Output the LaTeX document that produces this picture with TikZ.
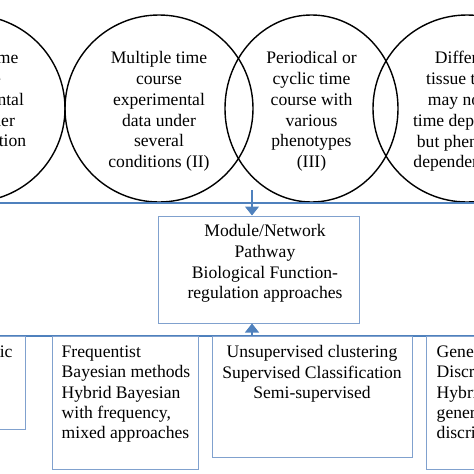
\documentclass[tikz,border=0pt]{standalone}
\usepackage{fontspec}
\setmainfont{Liberation Serif}
\usepackage{xcolor}
\usetikzlibrary{arrows.meta,shapes.geometric}
\definecolor{linkblue}{RGB}{79,129,189}
\definecolor{boxblue}{RGB}{128,161,206}
\def\textsz{\fontsize{17.6}{20.4}\selectfont}
\def\ringsz{\fontsize{17.6}{20.8}\selectfont}

\begin{document}
\begin{tikzpicture}[x=1pt, y=-1pt,
  ring/.style={draw=black, line width=1.4pt, ellipse, inner sep=0pt},
  ringtext/.style={align=center, inner sep=0pt, font=\ringsz},
  box/.style={draw=boxblue, line width=1pt, rectangle, inner sep=0pt},
  boxtext/.style={inner sep=0pt, font=\textsz},
  link/.style={draw=linkblue, line width=1.2pt},
  tip/.style={-{Triangle[width=14pt,length=9pt]}}]
\useasboundingbox (0,0) rectangle (474,474);
\clip (0,0) rectangle (474,474);

% circles
    \node[ring, minimum width=188pt, minimum height=187pt] (c1) at (-29,108.5) {};
    \node[ring, minimum width=188pt, minimum height=187pt] (c2) at (159,108.5) {};
    \node[ring, minimum width=173pt, minimum height=187pt] (c3) at (311.5,108.5) {};
    \node[ring, minimum width=188pt, minimum height=187pt] (c4) at (467,108.5) {};

    \node[ringtext] (t1) at ([shift={(7,3)}]c1) {Single time\\course\\experimental\\data under\\one condition\\(I)};
    \node[ringtext] (t2) at ([shift={(0,3)}]c2) {Multiple time\\course\\experimental\\data under\\several\\conditions (II)};
    \node[ringtext] (t3) at ([shift={(0,3)}]c3) {Periodical or\\cyclic time\\course with\\various\\phenotypes\\(III)};
    \node[ringtext] (t4) at ([shift={(0,3)}]c4) {Different\\tissue types\\may not be\\time dependent\\but phenotype\\dependent (IV)};

% upper line and arrow
    \coordinate (l1) at (0,203);
    \coordinate (r1) at (474,203);
    \coordinate (a1) at (252,190);
    \draw[link] (l1) -- (r1);

    \node[box, minimum width=201pt, minimum height=107pt] (mod) at (258.5,269.5) {};
    \node[ringtext] (modtext) at (265,263.5) {Module/Network\\Pathway\\Biological Function-\\regulation approaches};
    \draw[link, tip] (a1) -- (a1 |- mod.north);

% lower line and arrow
    \coordinate (l2) at (0,336);
    \coordinate (r2) at (474,336);
    \coordinate (a2) at (252,336);
    \draw[link] (l2) -- (r2);
    \draw[link, tip] (a2) -- (a2 |- mod.south);

% method boxes
    \node[box, minimum width=118pt, minimum height=93pt] (b1) at (-34,382.5) {};
    \node[box, minimum width=146pt, minimum height=133pt] (b2) at (125,402.5) {};
    \node[box, minimum width=200pt, minimum height=121pt] (b3) at (312,396.5) {};
    \node[box, minimum width=150pt, minimum height=133pt] (b4) at (501,402.5) {};

    \node[boxtext, anchor=north west, align=left] (bt1) at ([shift={(10,10)}]b1.north west) {Deterministic};
    \node[boxtext, anchor=north west, align=left] (bt2) at ([shift={(10,10)}]b2.north west) {Frequentist\\Bayesian methods\\Hybrid Bayesian\\with frequency,\\mixed approaches};
    \node[boxtext, anchor=north, align=center] (bt3) at ([shift={(0,10)}]b3.north) {Unsupervised clustering\\Supervised Classification\\Semi-supervised};
    \node[boxtext, anchor=north west, align=left] (bt4) at ([shift={(11,10)}]b4.north west) {Generative\\Discriminative\\Hybrid of\\generative and\\discriminative};

\end{tikzpicture}
\end{document}
